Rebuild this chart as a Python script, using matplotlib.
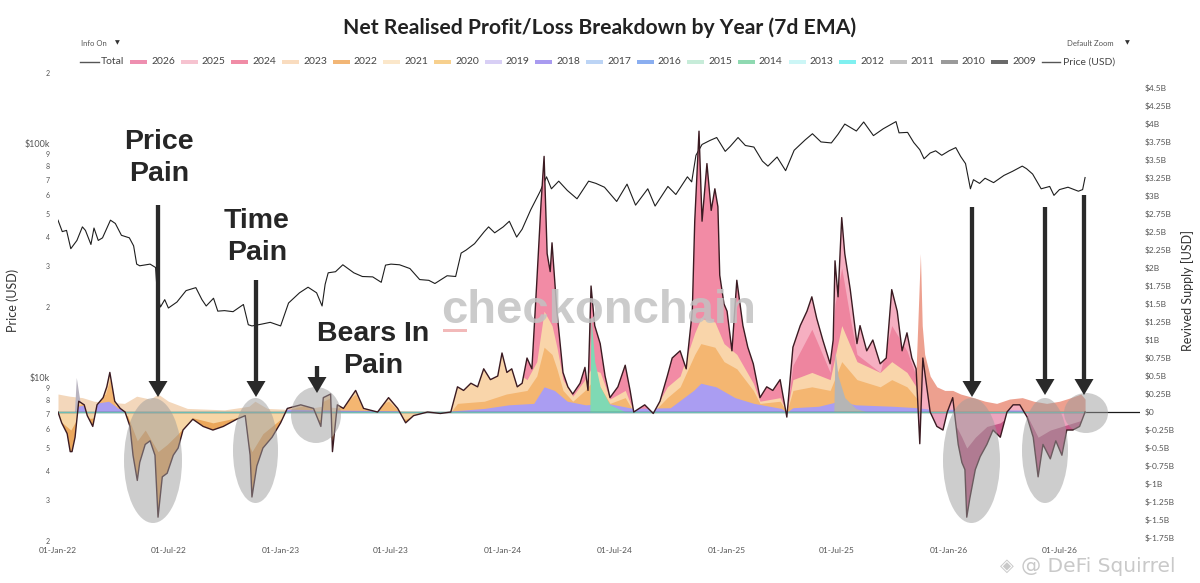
import numpy as np
import matplotlib
matplotlib.use("Agg")
import matplotlib.pyplot as plt
import matplotlib.dates as mdates
from matplotlib.patches import Ellipse, FancyArrow, Rectangle
from matplotlib.path import Path
from matplotlib.lines import Line2D

plt.rcParams['font.family'] = ['Lato', 'DejaVu Sans']

# ---------------------------------------------------------------- data
price_dates = [
    "2022-01-01", "2022-01-08", "2022-01-15", "2022-01-22", "2022-01-27", "2022-02-01", "2022-02-10",
    "2022-02-15", "2022-02-24", "2022-03-01", "2022-03-08", "2022-03-15", "2022-03-28", "2022-04-05",
    "2022-04-15", "2022-04-28", "2022-05-05", "2022-05-10", "2022-05-15", "2022-06-01", "2022-06-10",
    "2022-06-13", "2022-06-18", "2022-06-25", "2022-07-01", "2022-07-15", "2022-07-30", "2022-08-15",
    "2022-08-25", "2022-09-01", "2022-09-13", "2022-09-20", "2022-10-01", "2022-10-15", "2022-11-01",
    "2022-11-09", "2022-11-15", "2022-12-01", "2022-12-15", "2023-01-01", "2023-01-14", "2023-02-01",
    "2023-02-15", "2023-03-01", "2023-03-10", "2023-03-15", "2023-03-20", "2023-04-01", "2023-04-13",
    "2023-05-01", "2023-05-15", "2023-06-01", "2023-06-15", "2023-06-22", "2023-07-01", "2023-07-15",
    "2023-08-01", "2023-08-17", "2023-09-01", "2023-09-11", "2023-10-01", "2023-10-15", "2023-10-24",
    "2023-11-01", "2023-11-15", "2023-12-01", "2023-12-08", "2023-12-18", "2024-01-01", "2024-01-11",
    "2024-01-23", "2024-02-01", "2024-02-15", "2024-03-01", "2024-03-12", "2024-03-20", "2024-04-01",
    "2024-04-15", "2024-05-01", "2024-05-20", "2024-06-01", "2024-06-15", "2024-07-05", "2024-07-22",
    "2024-08-05", "2024-08-25", "2024-09-06", "2024-09-27", "2024-10-10", "2024-10-29", "2024-11-05",
    "2024-11-12", "2024-11-22", "2024-12-05", "2024-12-16", "2024-12-30", "2025-01-07", "2025-01-20",
    "2025-02-01", "2025-02-15", "2025-03-01", "2025-03-10", "2025-03-25", "2025-04-08", "2025-04-22",
    "2025-05-10", "2025-05-22", "2025-06-05", "2025-06-22", "2025-07-03", "2025-07-14", "2025-08-02",
    "2025-08-14", "2025-08-30", "2025-09-15", "2025-10-06", "2025-10-11", "2025-10-25", "2025-11-04",
    "2025-11-14", "2025-11-21", "2025-12-01", "2025-12-10", "2025-12-20", "2026-01-01", "2026-01-12",
    "2026-01-20", "2026-01-28", "2026-02-05", "2026-02-10", "2026-02-20", "2026-03-01", "2026-03-15",
    "2026-04-01", "2026-04-15", "2026-05-01", "2026-05-08", "2026-05-18", "2026-06-01", "2026-06-15",
    "2026-06-22", "2026-07-01", "2026-07-15", "2026-08-01", "2026-08-08", "2026-08-12"]
price_usd = [
    47000, 42000, 42500, 35500, 37000, 38500, 44000,
    42500, 37000, 43500, 38500, 39500, 47000, 45500,
    40500, 39500, 36500, 30500, 30000, 30500, 29500,
    22500, 20000, 21500, 19800, 21000, 23500, 24200,
    21500, 20200, 21800, 19200, 19300, 19100, 20500,
    16800, 16600, 16900, 17200, 16600, 20800, 23000,
    24300, 23000, 20200, 25000, 28000, 28300, 30300,
    28000, 27000, 26900, 25500, 30200, 30500, 30300,
    29200, 26200, 26000, 25200, 27200, 27000, 34000,
    35000, 37300, 42000, 44000, 41500, 44000, 46500,
    39800, 43000, 52000, 62000, 72000, 64000, 69000,
    63000, 58000, 69000, 67500, 65000, 56500, 67000,
    54500, 64000, 54000, 65500, 60500, 72000, 68500,
    89000, 99000, 103000, 106000, 92500, 97000, 106000,
    98000, 96500, 84000, 80000, 87500, 76500, 93500,
    103500, 110000, 101500, 100500, 109500, 121000, 113000,
    123500, 108000, 115500, 124000, 111000, 111500, 101000,
    94000, 86000, 91000, 93000, 89000, 93000, 96000,
    88000, 82000, 64000, 70000, 67500, 71000, 68000,
    73000, 76000, 80000, 78000, 74000, 64000, 65500,
    60000, 63500, 65000, 62500, 63500, 71500]

pnl_dates = [
    "2022-01-01", "2022-01-07", "2022-01-16", "2022-01-21", "2022-01-24", "2022-01-29", "2022-02-04",
    "2022-02-13", "2022-02-18", "2022-02-27", "2022-03-06", "2022-03-16", "2022-03-22", "2022-03-27",
    "2022-04-04", "2022-04-13", "2022-04-21", "2022-04-29", "2022-05-04", "2022-05-11", "2022-05-15",
    "2022-05-24", "2022-06-01", "2022-06-09", "2022-06-14", "2022-06-21", "2022-06-29", "2022-07-09",
    "2022-07-17", "2022-07-25", "2022-08-10", "2022-08-27", "2022-09-12", "2022-09-29", "2022-10-21",
    "2022-11-04", "2022-11-12", "2022-11-15", "2022-11-23", "2022-12-03", "2022-12-18", "2023-01-01",
    "2023-01-12", "2023-02-03", "2023-02-24", "2023-03-08", "2023-03-12", "2023-03-24", "2023-03-27",
    "2023-04-04", "2023-04-14", "2023-05-04", "2023-05-17", "2023-06-09", "2023-06-27", "2023-07-12",
    "2023-07-25", "2023-08-07", "2023-08-30", "2023-09-20", "2023-10-07", "2023-10-18", "2023-10-28",
    "2023-11-09", "2023-11-20", "2023-11-30", "2023-12-11", "2023-12-23", "2023-12-30", "2024-01-07",
    "2024-01-15", "2024-01-24", "2024-02-01", "2024-02-09", "2024-02-17", "2024-02-25", "2024-03-03",
    "2024-03-08", "2024-03-13", "2024-03-18", "2024-03-21", "2024-03-29", "2024-04-08", "2024-04-16",
    "2024-04-24", "2024-05-06", "2024-05-14", "2024-05-19", "2024-05-24", "2024-05-30", "2024-06-08",
    "2024-06-16", "2024-06-24", "2024-07-07", "2024-07-19", "2024-07-27", "2024-08-02", "2024-08-20",
    "2024-09-03", "2024-09-14", "2024-09-26", "2024-10-04", "2024-10-17", "2024-10-27", "2024-11-06",
    "2024-11-10", "2024-11-17", "2024-11-22", "2024-11-30", "2024-12-07", "2024-12-13", "2024-12-18",
    "2024-12-21", "2024-12-28", "2025-01-02", "2025-01-10", "2025-01-18", "2025-01-28", "2025-02-05",
    "2025-02-14", "2025-02-25", "2025-03-08", "2025-03-18", "2025-03-30", "2025-04-10", "2025-04-20",
    "2025-05-02", "2025-05-13", "2025-05-21", "2025-05-29", "2025-06-08", "2025-06-20", "2025-06-25",
    "2025-06-28", "2025-07-03", "2025-07-09", "2025-07-14", "2025-07-23", "2025-08-03", "2025-08-08",
    "2025-08-19", "2025-08-29", "2025-09-10", "2025-09-20", "2025-09-29", "2025-10-08", "2025-10-16",
    "2025-10-24", "2025-11-01", "2025-11-08", "2025-11-14", "2025-11-19", "2025-12-01", "2025-12-12",
    "2025-12-22", "2025-12-29", "2026-01-07", "2026-01-16", "2026-01-22", "2026-01-27", "2026-01-30",
    "2026-02-04", "2026-02-13", "2026-02-21", "2026-03-04", "2026-03-14", "2026-03-26", "2026-04-06",
    "2026-04-16", "2026-04-27", "2026-05-09", "2026-05-19", "2026-05-27", "2026-06-04", "2026-06-16",
    "2026-06-25", "2026-07-05", "2026-07-13", "2026-07-23", "2026-08-03", "2026-08-12"]
total_pnl = [  # $B
    0.00, -0.15, -0.30, -0.55, -0.55, -0.35, 0.15,
    0.10, -0.05, -0.20, 0.10, 0.20, 0.35, 0.55,
    0.15, 0.05, 0.00, -0.20, -0.60, -0.95, -0.70,
    -0.45, -0.40, -0.60, -1.46, -0.90, -0.85, -0.60,
    -0.50, -0.25, -0.10, -0.20, -0.25, -0.20, -0.10,
    -0.05, -0.60, -1.18, -0.75, -0.50, -0.35, -0.15,
    0.05, 0.10, 0.05, -0.20, 0.20, 0.25, -0.55,
    0.10, 0.05, 0.30, 0.05, 0.00, 0.20, 0.05,
    -0.15, -0.05, 0.00, -0.02, 0.00, 0.35, 0.30,
    0.40, 0.35, 0.60, 0.45, 0.50, 0.82, 0.55,
    0.60, 0.35, 0.40, 0.75, 0.60, 1.80, 2.90,
    3.55, 2.20, 1.95, 2.35, 1.40, 0.55, 0.35,
    0.25, 0.40, 0.62, 0.30, 1.75, 1.20, 0.95,
    0.50, 0.20, 0.35, 0.65, 0.30, 0.00, 0.10,
    -0.02, 0.15, 0.50, 0.75, 0.85, 0.60, 1.40,
    2.65, 3.90, 2.65, 3.45, 2.80, 3.10, 2.85,
    1.90, 1.50, 1.40, 0.85, 1.83, 1.20, 0.90,
    0.67, 0.20, 0.35, 0.30, 0.45, -0.07, 0.90,
    1.20, 1.40, 1.60, 1.30, 1.00, 0.67, 1.00,
    2.10, 1.60, 2.70, 2.20, 1.70, 0.95, 1.20,
    0.85, 1.00, 0.67, 0.75, 1.70, 1.40, 0.85,
    1.10, 0.75, 0.60, -0.44, 0.75, 0.00, -0.20,
    -0.25, 0.00, 0.20, -0.45, -0.70, -0.80, -1.46,
    -1.20, -0.80, -0.62, -0.45, -0.25, -0.35, 0.00,
    0.10, 0.10, -0.07, -0.35, -0.90, -0.45, -0.65,
    -0.40, -0.60, -0.25, -0.25, -0.20, 0.00]

# cumulative cohort boundaries inside the profit area ($B)
peach_dates = ["2022-01-01", "2023-12-23", "2024-01-15", "2024-02-09", "2024-02-25", "2024-03-08",
               "2024-03-21", "2024-03-29", "2024-04-08", "2024-04-24", "2024-05-14", "2024-05-24",
               "2024-06-08", "2024-06-24", "2024-07-19", "2024-08-02", "2024-09-03", "2024-09-26",
               "2024-10-17", "2024-11-10", "2024-11-20", "2024-12-13", "2024-12-28", "2025-01-18",
               "2025-02-14", "2025-02-25", "2025-03-30", "2025-04-10", "2025-04-20", "2025-05-21",
               "2025-06-20", "2025-07-09", "2025-08-03", "2025-09-10", "2025-09-29", "2025-10-24",
               "2025-11-08", "2025-11-14", "2026-08-12"]
peach_top = [1.0, 1.0, 0.6, 0.45, 0.7, 1.4,
             1.2, 0.9, 0.45, 0.22, 0.45, 0.6,
             0.55, 0.18, 0.3, 0.0, 0.0, 0.35,
             0.5, 1.1, 1.3, 1.25, 0.95, 0.8,
             0.4, 0.15, 0.2, 0.0, 0.45, 0.55,
             0.45, 1.2, 0.7, 0.55, 0.7, 0.55,
             0.35, 0.0, 0.0]

orange_dates = ["2022-01-01", "2022-02-04", "2022-03-20", "2022-03-27", "2022-04-05", "2022-04-20",
                "2023-01-10", "2023-03-12", "2023-03-24", "2023-04-04", "2023-05-04", "2023-05-17",
                "2023-06-27", "2023-07-12", "2023-10-07", "2023-10-18", "2023-12-01", "2024-01-06",
                "2024-02-09", "2024-02-25", "2024-03-08", "2024-03-21", "2024-03-29", "2024-04-08",
                "2024-04-24", "2024-05-14", "2024-05-24", "2024-06-08", "2024-06-24", "2024-07-19",
                "2024-08-02", "2024-09-03", "2024-09-26", "2024-10-17", "2024-11-10", "2024-11-20",
                "2024-12-13", "2024-12-28", "2025-01-18", "2025-02-14", "2025-02-25", "2025-03-30",
                "2025-04-10", "2025-04-20", "2025-05-21", "2025-06-20", "2025-07-09", "2025-08-03",
                "2025-09-10", "2025-09-29", "2025-10-24", "2025-11-08", "2025-11-14", "2026-08-12"]
orange_top = [0.10, 0.10, 0.25, 0.45, 0.10, 0.05,
              0.03, 0.15, 0.20, 0.05, 0.25, 0.03,
              0.15, 0.03, 0.00, 0.12, 0.15, 0.25,
              0.30, 0.50, 0.90, 0.80, 0.60, 0.30,
              0.15, 0.30, 0.40, 0.35, 0.12, 0.20,
              0.00, 0.00, 0.20, 0.35, 0.80, 0.95,
              0.90, 0.70, 0.60, 0.30, 0.12, 0.15,
              0.00, 0.30, 0.35, 0.30, 0.70, 0.45,
              0.35, 0.45, 0.35, 0.20, 0.00, 0.00]

purple_dates = ["2022-01-01", "2022-02-01", "2022-03-25", "2022-04-10", "2022-05-01", "2022-06-01",
                "2022-08-01", "2022-11-01", "2022-12-01", "2023-03-01", "2023-10-01", "2023-12-01",
                "2024-01-10", "2024-02-20", "2024-03-08", "2024-03-25", "2024-04-15", "2024-05-15",
                "2024-06-20", "2024-08-01", "2024-10-01", "2024-11-08", "2024-11-20", "2024-12-15",
                "2025-01-15", "2025-02-15", "2025-04-01", "2025-04-10", "2025-04-20", "2025-06-01",
                "2025-07-05", "2025-08-01", "2025-10-01", "2025-11-10", "2025-12-01", "2026-08-12"]
purple_top = [0.05, 0.08, 0.15, 0.05, 0.08, 0.05,
              0.02, 0.03, 0.05, 0.03, 0.01, 0.05,
              0.10, 0.12, 0.35, 0.30, 0.15, 0.10,
              0.12, 0.05, 0.06, 0.30, 0.40, 0.35,
              0.20, 0.12, 0.05, 0.00, 0.06, 0.08,
              0.15, 0.10, 0.08, 0.06, 0.04, 0.02]

pink24_dates = ["2025-04-10", "2025-04-20", "2025-05-21", "2025-06-20", "2025-06-28", "2025-07-09",
                "2025-07-23", "2025-08-03", "2025-09-10", "2025-09-29", "2025-10-24", "2025-11-08",
                "2025-11-14"]
pink24_top = [0.0, 0.65, 1.15, 0.55, 1.5, 2.0,
              1.3, 0.8, 0.55, 1.2, 0.85, 0.5,
              0.0]

spike2014_dates = ["2024-05-22", "2024-05-24", "2024-05-30", "2024-06-08", "2024-06-24", "2024-07-20"]
spike2014 = [0.0, 1.3, 0.7, 0.35, 0.1, 0.0]
spike2011_dates = ["2025-06-26", "2025-06-28", "2025-07-03", "2025-07-14", "2025-08-01", "2025-08-20"]
spike2011 = [0.0, 0.85, 0.5, 0.2, 0.05, 0.0]
spike2022_dates = ["2022-01-28", "2022-01-31", "2022-02-06", "2022-02-15"]
spike2022 = [0.0, 0.48, 0.15, 0.0]

# profit still realised during the bear phases
bear22_dates = ["2022-01-01", "2022-01-20", "2022-02-10", "2022-03-01", "2022-04-20", "2022-05-10",
                "2022-06-01", "2022-06-14", "2022-07-01", "2022-08-01", "2022-10-01", "2022-11-10",
                "2022-11-20", "2022-12-10", "2023-02-01", "2023-03-10", "2023-04-15", "2023-06-01",
                "2023-09-01", "2023-10-10"]
bear22_top = [0.25, 0.22, 0.20, 0.15, 0.12, 0.22,
              0.18, 0.25, 0.15, 0.05, 0.03, 0.08,
              0.15, 0.05, 0.03, 0.08, 0.05, 0.02,
              0.01, 0.0]
bear26_dates = ["2025-11-08", "2025-11-15", "2025-11-18", "2025-11-22", "2025-12-01", "2025-12-12",
                "2025-12-25", "2026-01-07", "2026-01-20", "2026-02-10", "2026-03-01", "2026-03-20",
                "2026-04-10", "2026-05-01", "2026-05-20", "2026-06-10", "2026-07-01", "2026-07-20",
                "2026-08-05", "2026-08-12"]
bear26_top = [0.6, 2.2, 1.2, 0.8, 0.5, 0.35,
              0.3, 0.3, 0.25, 0.2, 0.15, 0.12,
              0.18, 0.2, 0.15, 0.12, 0.15, 0.2,
              0.25, 0.18]

# lighter (older cohort) share of realised losses, measured from zero
loss22_dates = ["2022-01-01", "2022-01-22", "2022-02-01", "2022-04-25", "2022-05-11", "2022-05-24",
                "2022-06-14", "2022-06-29", "2022-07-17", "2022-08-10", "2022-09-12", "2022-10-21",
                "2022-11-15", "2022-12-03", "2023-01-01", "2023-03-08", "2023-03-27", "2023-04-10",
                "2023-07-25", "2023-08-20"]
loss22_bottom = [-0.1, -0.25, -0.1, -0.05, -0.4, -0.25,
                 -0.55, -0.45, -0.3, -0.08, -0.15, -0.08,
                 -0.55, -0.3, -0.1, -0.1, -0.35, 0.0,
                 -0.1, 0.0]
loss26_dates = ["2025-11-10", "2025-11-14", "2025-11-20", "2025-12-05", "2025-12-22", "2026-01-10",
                "2026-01-22", "2026-01-30", "2026-02-13", "2026-03-04", "2026-03-26", "2026-04-10",
                "2026-05-09", "2026-05-27", "2026-06-16", "2026-07-05", "2026-08-12"]
loss26_bottom = [0.0, -0.3, -0.1, -0.25, -0.3, -0.15,
                 -0.35, -0.5, -0.35, -0.2, -0.15, -0.05,
                 -0.05, -0.35, -0.25, -0.2, -0.1]

tick_dates = ["2022-01-01", "2022-07-01", "2023-01-01", "2023-07-01", "2024-01-01",
              "2024-07-01", "2025-01-01", "2025-07-01", "2026-01-01", "2026-07-01"]
tick_labels = ["01-Jan-22", "01-Jul-22", "01-Jan-23", "01-Jul-23", "01-Jan-24",
               "01-Jul-24", "01-Jan-25", "01-Jul-25", "01-Jan-26", "01-Jul-26"]
price_ticks = [2000, 3000, 4000, 5000, 6000, 7000, 8000, 9000, 10000,
               20000, 30000, 40000, 50000, 60000, 70000, 80000, 90000, 100000, 200000]
price_tick_labels = ["2", "3", "4", "5", "6", "7", "8", "9", "$10k",
                     "2", "3", "4", "5", "6", "7", "8", "9", "$100k", "2"]
pnl_ticks = [4.5, 4.25, 4.0, 3.75, 3.5, 3.25, 3.0, 2.75, 2.5, 2.25, 2.0, 1.75, 1.5, 1.25, 1.0,
             0.75, 0.5, 0.25, 0.0, -0.25, -0.5, -0.75, -1.0, -1.25, -1.5, -1.75]
pnl_tick_labels = ["$4.5B", "$4.25B", "$4B", "$3.75B", "$3.5B", "$3.25B", "$3B", "$2.75B", "$2.5B",
                   "$2.25B", "$2B", "$1.75B", "$1.5B", "$1.25B", "$1B", "$0.75B", "$0.5B", "$0.25B",
                   "$0", "$-0.25B", "$-0.5B", "$-0.75B", "$-1B", "$-1.25B", "$-1.5B", "$-1.75B"]

legend_labels = ["2026", "2025", "2024", "2023", "2022", "2021", "2020", "2019", "2018",
                 "2017", "2016", "2015", "2014", "2013", "2012", "2011", "2010", "2009"]
legend_colors = ["#ee8fb0", "#f6c3d0", "#f08ca6", "#f9dcbf", "#f2b676", "#fbe7ca", "#f7d08e",
                 "#d8cff5", "#a99bf0", "#bcd4f5", "#8aaef0", "#c7ecd9", "#8fd9b1", "#ccf6f6",
                 "#7ff0f0", "#c2c2c2", "#9a9a9a", "#6a6a6a"]

# ---------------------------------------------------------------- styling
PINK = "#f28ba5"
PINK_LIGHT = "#f6afc1"
PINK_DEEP = "#ee859f"
PEACH = "#f9d5aa"
ORANGE = "#f4b671"
PURPLE = "#aa9df2"
TEAL = "#7fd9b4"
GREY = "#b5b5b5"
NEG_ORANGE = "#eba75c"
NEG_ORANGE_LIGHT = "#f7d6a6"
NEG_MAG = "#c55a88"
NEG_PINK_LIGHT = "#eca4be"
BEAR22 = "#f3d7bb"
BEAR26 = "#eda08f"
TXT = "#444444"

W, H = 1200, 583
fig = plt.figure(figsize=(W / 100, H / 100), dpi=100)


def fx(x):
    return x / W


def fy(y):
    return 1 - y / H


def dn(lst):
    return mdates.date2num(np.array(lst, dtype="datetime64[D]"))


AX_L, AX_R, AX_T, AX_B = 58, 1140, 73, 541
ax = fig.add_axes([fx(AX_L), fy(AX_B), (AX_R - AX_L) / W, (AX_B - AX_T) / H])
ax2 = ax.twinx()

x0 = dn(["2022-01-01"])[0]
x_end = x0 + (AX_R - AX_L) / 0.6099
ax.set_xlim(x0, x_end)
ax.set_yscale("log")
ax.set_ylim(2000, 200000)
ax2.set_ylim(-1.791, 4.708)

# price line
ax.plot(dn(price_dates), price_usd, color="#1e1e1e", lw=0.8, zorder=3)

# P/L stack
t = dn(pnl_dates)
tot = np.array(total_pnl)

ax2.fill_between(dn(bear22_dates), 0, bear22_top, color=BEAR22, lw=0)
ax2.fill_between(dn(bear26_dates), 0, bear26_top, color=BEAR26, lw=0)
ax2.fill_between(dn(spike2022_dates), 0, spike2022, color="#b8b3bf", lw=0)

cut_pink = dn(["2025-04-10"])[0]
ax2.fill_between(t, 0, tot, where=(tot >= 0) & (t <= cut_pink), interpolate=True, color=PINK, lw=0)
ax2.fill_between(t, 0, tot, where=(tot >= 0) & (t >= cut_pink), interpolate=True, color=PINK_LIGHT, lw=0)
pos_clip = ax2.fill_between(t, 0, tot, where=tot >= 0, interpolate=True, facecolor="none", lw=0)
pos_path = Path.make_compound_path(*pos_clip.get_paths())


def clipped(dates, vals, color, path):
    c = ax2.fill_between(dn(dates), 0, vals, color=color, lw=0)
    c.set_clip_path(path, ax2.transData)
    return c


clipped(pink24_dates, pink24_top, PINK_DEEP, pos_path)
clipped(peach_dates, peach_top, PEACH, pos_path)
clipped(orange_dates, orange_top, ORANGE, pos_path)
clipped(purple_dates, purple_top, PURPLE, pos_path)
clipped(spike2014_dates, spike2014, TEAL, pos_path)
clipped(spike2011_dates, spike2011, GREY, pos_path)

cut_neg = dn(["2024-08-20"])[0]
ax2.fill_between(t, 0, tot, where=(tot <= 0) & (t <= cut_neg), interpolate=True, color=NEG_ORANGE, lw=0)
ax2.fill_between(t, 0, tot, where=(tot <= 0) & (t >= cut_neg), interpolate=True, color=NEG_MAG, lw=0)
neg_clip = ax2.fill_between(t, 0, tot, where=tot <= 0, interpolate=True, facecolor="none", lw=0)
neg_path = Path.make_compound_path(*neg_clip.get_paths())
clipped(loss22_dates, loss22_bottom, NEG_ORANGE_LIGHT, neg_path)
clipped(loss26_dates, loss26_bottom, NEG_PINK_LIGHT, neg_path)

ax2.axhline(0, color="#1a1a1a", lw=0.9)
ax2.plot([t[0], t[-1]], [0, 0], color="#6dbdb4", lw=1.0)
ax2.plot(t, tot, color="#3b1b22", lw=1.0)

# axes cosmetics
for a in (ax, ax2):
    for s in a.spines.values():
        s.set_visible(False)
ax.set_xticks(dn(tick_dates))
ax.set_xticklabels(tick_labels)
ax.tick_params(axis="x", length=0, labelsize=6, labelcolor="#555555", pad=4)
ax.yaxis.set_major_locator(matplotlib.ticker.FixedLocator(price_ticks))
ax.yaxis.set_major_formatter(matplotlib.ticker.FixedFormatter(price_tick_labels))
ax.yaxis.set_minor_locator(matplotlib.ticker.NullLocator())
ax.tick_params(axis="y", length=0, labelsize=5, labelcolor="#555555", pad=6)
for lab in ax.get_yticklabels():
    if lab.get_text().startswith("$"):
        lab.set_fontsize(6.5)
ax2.set_yticks(pnl_ticks)
ax2.set_yticklabels(pnl_tick_labels)
ax2.tick_params(axis="y", length=0, labelsize=6, labelcolor="#555555", pad=3)

# ---------------------------------------------------------------- annotations
for cx, cy, w, h in [(153, 460.5, 58, 125), (255.5, 450.5, 45, 105), (316, 415, 50, 56),
                     (971.5, 460.5, 57, 125), (1045, 450.5, 46, 105), (1086, 413, 44, 40)]:
    fig.add_artist(Ellipse((fx(cx), fy(cy)), w / W, h / H, transform=fig.transFigure,
                           facecolor="#9c9c9c", edgecolor="none", alpha=0.5, zorder=2))

for xc, ytop, ytip in [(158, 205, 397), (256, 280, 397), (317, 366, 393),
                       (972, 207, 397), (1045, 207, 395), (1084, 195, 395)]:
    fig.add_artist(FancyArrow(fx(xc), fy(ytop), 0, fy(ytip) - fy(ytop), width=4.3 / W,
                              head_width=19 / W, head_length=16 / H, length_includes_head=True,
                              transform=fig.transFigure, color="#2a2a2a", lw=0, zorder=3))

ann_kw = dict(ha="center", va="center", fontsize=20.5, fontweight="bold",
              family="Liberation Sans", color="#262626", linespacing=1.3, zorder=4)
fig.text(fx(159), fy(158), "Price\nPain", **ann_kw)
fig.text(fx(257), fy(237), "Time\nPain", **ann_kw)
fig.text(fx(373), fy(350), "Bears In\nPain", **ann_kw)

fig.text(fx(599), fy(323), "checkonchain", ha="center", va="baseline", fontsize=34,
         fontweight="bold", family="Liberation Sans", color="#c2c2c2", alpha=0.85, zorder=4)
fig.add_artist(Rectangle((fx(443), fy(332)), 24 / W, 3 / H, transform=fig.transFigure,
                         facecolor="#f2b9b9", edgecolor="none", zorder=4))
fig.text(fx(1000), fy(566), "\u25c8", ha="left", va="center", fontsize=13,
         family="DejaVu Sans", color="#c9c9c9", zorder=4)
fig.text(fx(1021), fy(566), "@ DeFi Squirrel", ha="left", va="center", fontsize=14.5,
         family="DejaVu Sans", color="#c9c9c9", zorder=4)

# title, header widgets, axis titles
fig.text(0.5, fy(28), "Net Realised Profit/Loss Breakdown by Year (7d EMA)", ha="center",
         va="center", fontsize=15.2, fontweight="bold", color="#222222")
fig.text(fx(81), fy(43), "Info On", ha="left", va="center", fontsize=5.5, color="#555555")
fig.text(fx(115), fy(43), "\u25bc", ha="left", va="center", fontsize=4.5, color="#333333",
         family="DejaVu Sans")
fig.text(fx(1067), fy(43), "Default Zoom", ha="left", va="center", fontsize=5.5, color="#555555")
fig.text(fx(1125), fy(43), "\u25bc", ha="left", va="center", fontsize=4.5, color="#333333",
         family="DejaVu Sans")
fig.text(fx(13), fy(300), "Price (USD)", rotation=90, ha="center", va="center", fontsize=9,
         color="#333333")
fig.text(fx(1188), fy(291), "Revived Supply [USD]", rotation=90, ha="center", va="center",
         fontsize=9, color="#333333")

# legend row
PITCH = 50.65
LX0 = 79.5
LY = 62
fig.add_artist(Line2D([fx(LX0), fx(LX0 + 19)], [fy(LY), fy(LY)], color="#555555", lw=1.0,
                      transform=fig.transFigure))
fig.text(fx(LX0 + 21.5), fy(LY), "Total", ha="left", va="center", fontsize=7.5, color=TXT)
for i, (lab, col) in enumerate(zip(legend_labels, legend_colors)):
    xk = LX0 + PITCH * (i + 1)
    fig.add_artist(Rectangle((fx(xk), fy(LY + 2.2)), 17 / W, 4.5 / H, transform=fig.transFigure,
                             facecolor=col, edgecolor="none"))
    fig.text(fx(xk + 21), fy(LY), lab, ha="left", va="center", fontsize=7.5, color=TXT)
xk = LX0 + PITCH * 19
fig.add_artist(Line2D([fx(xk), fx(xk + 18)], [fy(LY), fy(LY)], color="#555555", lw=1.0,
                      transform=fig.transFigure))
fig.text(fx(xk + 21), fy(LY), "Price (USD)", ha="left", va="center", fontsize=7.5, color=TXT)

fig.savefig("out.png", dpi=100)
